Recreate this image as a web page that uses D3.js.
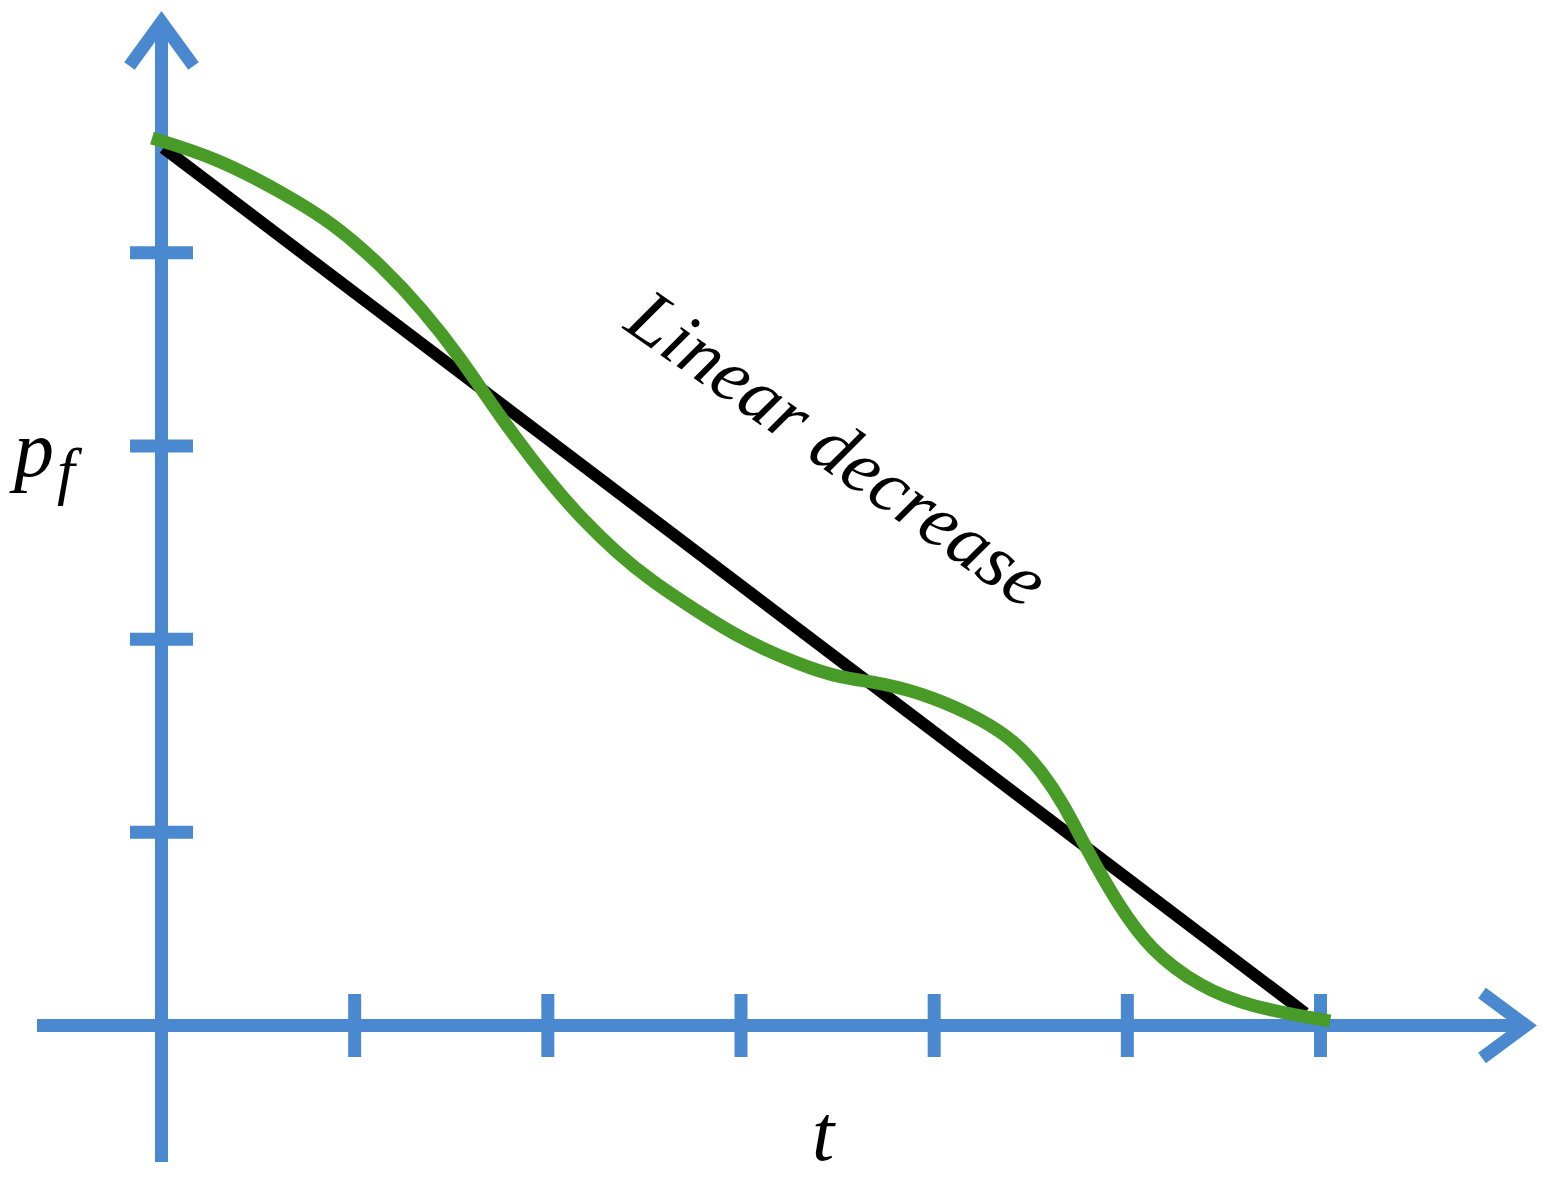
<!DOCTYPE html>
<html>
<head>
<meta charset="utf-8">
<script src="https://cdn.jsdelivr.net/npm/d3@7"></script>
<style>
  html, body { margin: 0; padding: 0; background: #ffffff; }
  svg { display: block; }
</style>
</head>
<body>
<script>
// ---- data ----
const xTicks = [1, 2, 3, 4, 5, 6];
const yTicks = [1, 2, 3, 4];
const linearT = [0.01, 5.92];
const linearP = [4.543, 0.065];
const curveT = [-0.049, 0.287, 0.629, 0.888, 1.147, 1.354, 1.545, 1.752, 2.011, 2.182, 2.358, 2.529, 2.787, 3.010, 3.305, 3.512, 3.735, 3.993, 4.252, 4.429, 4.563, 4.667, 4.791, 4.947, 5.117, 5.376, 5.635, 6.050];
const curveP = [4.594, 4.491, 4.310, 4.154, 3.926, 3.704, 3.461, 3.151, 2.808, 2.617, 2.446, 2.306, 2.135, 1.996, 1.867, 1.799, 1.773, 1.701, 1.582, 1.463, 1.307, 1.152, 0.909, 0.634, 0.391, 0.199, 0.096, 0.023];
const labelLinear = "Linear decrease";
const labelX = "t";
const labelYMain = "p";
const labelYSub = "f";

// ---- layout ----
const W = 1550, H = 1181;
const blue = "#4a88cf", green = "#489b26";
const x = d3.scaleLinear().domain([0, 6]).range([161.5, 1320.5]);
const y = d3.scaleLinear().domain([0, 4]).range([1025.5, 252.8]);

const svg = d3.select("body").append("svg").attr("width", W).attr("height", H);

const axisW = 13;
const x0 = x(0), y0 = y(0);

// x axis
svg.append("line").attr("x1", 37).attr("x2", 1526).attr("y1", y0).attr("y2", y0)
  .attr("stroke", blue).attr("stroke-width", axisW);
svg.append("polyline")
  .attr("points", `${1482},${y0 - 32.5} ${1526},${y0} ${1482},${y0 + 32.5}`)
  .attr("fill", "none").attr("stroke", blue).attr("stroke-width", axisW)
  .attr("stroke-linejoin", "miter").attr("stroke-miterlimit", 10);
svg.selectAll("line.xt").data(xTicks).join("line").attr("class", "xt")
  .attr("x1", d => x(d)).attr("x2", d => x(d))
  .attr("y1", y0 - 31.5).attr("y2", y0 + 31.5)
  .attr("stroke", blue).attr("stroke-width", axisW);

// y axis
svg.append("line").attr("x1", x0).attr("x2", x0).attr("y1", 1162).attr("y2", 22)
  .attr("stroke", blue).attr("stroke-width", axisW);
svg.append("polyline")
  .attr("points", `${x0 - 32},${66} ${x0},${22} ${x0 + 32},${66}`)
  .attr("fill", "none").attr("stroke", blue).attr("stroke-width", axisW)
  .attr("stroke-linejoin", "miter").attr("stroke-miterlimit", 10);
svg.selectAll("line.yt").data(yTicks).join("line").attr("class", "yt")
  .attr("y1", d => y(d)).attr("y2", d => y(d))
  .attr("x1", x0 - 31.5).attr("x2", x0 + 31.5)
  .attr("stroke", blue).attr("stroke-width", axisW);

// linear decrease (black)
const lin = linearT.map((t, i) => [t, linearP[i]]);
svg.append("path").datum(lin)
  .attr("d", d3.line().x(d => x(d[0])).y(d => y(d[1])))
  .attr("fill", "none").attr("stroke", "#000").attr("stroke-width", 12);

// curve (green)
const cur = curveT.map((t, i) => [t, curveP[i]]);
svg.append("path").datum(cur)
  .attr("d", d3.line().curve(d3.curveBasis).x(d => x(d[0])).y(d => y(d[1])))
  .attr("fill", "none").attr("stroke", green).attr("stroke-width", 13);

// labels
const font = "'Liberation Serif', 'DejaVu Serif', serif";
svg.append("text")
  .attr("transform", "translate(622,328) rotate(35)")
  .attr("font-family", font).attr("font-style", "italic").attr("font-size", 76)
  .attr("textLength", 492).attr("lengthAdjust", "spacingAndGlyphs")
  .attr("fill", "#000").text(labelLinear);

svg.append("text").attr("x", 812).attr("y", 1160)
  .attr("font-family", font).attr("font-style", "italic").attr("font-size", 80)
  .attr("fill", "#000").text(labelX);

svg.append("text").attr("x", 14).attr("y", 476)
  .attr("font-family", font).attr("font-style", "italic").attr("font-size", 80)
  .attr("fill", "#000").text(labelYMain);
svg.append("text").attr("x", 57).attr("y", 492)
  .attr("font-family", font).attr("font-style", "italic").attr("font-size", 64)
  .attr("fill", "#000").text(labelYSub);
</script>
</body>
</html>
